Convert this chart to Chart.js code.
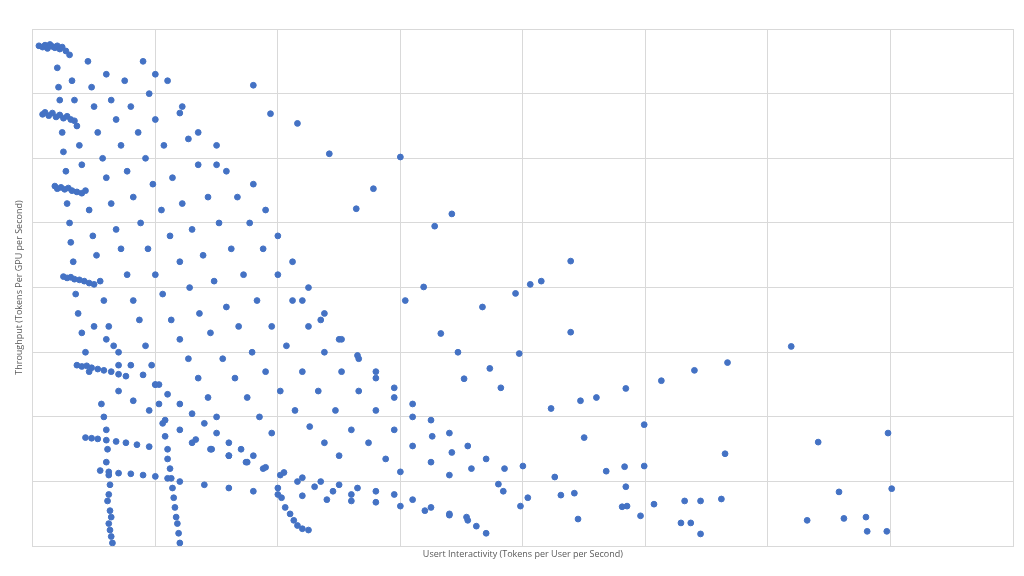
<!DOCTYPE html>
<html><head><meta charset="utf-8">
<script src="https://cdn.jsdelivr.net/npm/chart.js@4"></script>
<style>html,body{margin:0;background:#fff}#w{width:1024px;height:576px}</style>
</head><body><div id="w"><canvas id="c"></canvas></div>
<script>
// Left horizontal bands
const bandX = [0.05,0.08,0.1,0.12,0.14,0.16,0.18,0.2,0.22,0.24,0.27, 0.08,0.1,0.13,0.16,0.19,0.22,0.25,0.28,0.31,0.34, 0.18,0.2,0.23,0.26,0.29,0.32,0.36,0.4, 0.25,0.28,0.31,0.34,0.38,0.42,0.46,0.5, 0.36,0.4,0.44,0.48,0.53,0.58,0.64,0.7,0.76, 0.43,0.48,0.53,0.6,0.68,0.76,0.85,0.95, 0.55,0.62,0.7,0.8,0.9,1.0,1.1];
const bandY = [7.74,7.72,7.75,7.70,7.76,7.73,7.71,7.74,7.69,7.72,7.66, 6.68,6.71,6.66,6.70,6.64,6.67,6.62,6.65,6.60,6.58, 5.57,5.53,5.55,5.52,5.54,5.50,5.48,5.46, 4.17,4.15,4.16,4.13,4.12,4.10,4.07,4.05, 2.80,2.78,2.79,2.76,2.74,2.72,2.70,2.66,2.63, 1.68,1.67,1.66,1.64,1.62,1.60,1.57,1.54, 1.17,1.15,1.13,1.12,1.10,1.08,1.05];
// Near-vertical columns
const colX = [0.56,0.58,0.6,0.61,0.6,0.62,0.63,0.62,0.61,0.63,0.64,0.62,0.63,0.64,0.65, 1.0,1.03,1.06,1.08,1.1,1.1,1.12,1.13,1.14,1.15,1.16,1.17,1.18,1.19,1.2, 2.0,2.03,2.06,2.1,2.13,2.16,2.2,2.25];
const colY = [2.2,2.0,1.8,1.5,1.3,1.1,0.95,0.8,0.7,0.55,0.45,0.35,0.25,0.15,0.05, 2.5,2.2,1.9,1.7,1.5,1.35,1.2,1.05,0.9,0.75,0.6,0.45,0.35,0.2,0.05, 0.9,0.75,0.6,0.5,0.4,0.32,0.27,0.25];
// Decaying strands
const strandX = [0.2,0.21,0.22,0.24,0.25,0.27,0.28,0.3,0.31,0.33,0.35,0.37,0.4,0.43,0.46,
0.3,0.32,0.34,0.36,0.38,0.4,0.43,0.46,0.49,0.52,0.55,0.58,0.62,0.66,0.7,
0.45,0.48,0.5,0.53,0.57,0.6,0.64,0.68,0.72,0.77,0.82,0.87,0.92,0.97,1.03,
0.6,0.64,0.68,0.72,0.77,0.82,0.88,0.94,1.0,1.06,1.13,1.2,1.27,1.35,1.43,1.5,
0.75,0.8,0.86,0.92,0.98,1.05,1.12,1.2,1.28,1.36,1.45,1.55,1.65,1.75,1.85,1.95,
0.95,1.0,1.07,1.14,1.22,1.3,1.39,1.48,1.58,1.68,1.79,1.9,2.02,2.14,2.26,2.38,2.5,
1.2,1.27,1.35,1.43,1.52,1.62,1.72,1.83,1.95,2.07,2.2,2.33,2.47,2.6,2.74,2.88,3.0,
1.5,1.58,1.67,1.77,1.88,2.0,2.12,2.25,2.38,2.52,2.66,2.8,2.95,3.1,3.25,3.4,
1.8,1.9,2.0,2.12,2.25,2.38,2.52,2.66,2.8,2.95,3.1,3.26,3.42,3.58,
0.5,0.6,0.7,0.8,0.9,1.0,1.1,1.2,1.3,1.4,1.5,1.6,1.7,1.8,
0.7,0.82,0.95,1.08,1.2,1.33,1.46,1.6,1.74,1.88,2.02,2.16,2.3,2.45,2.6,
1.3,1.45,1.6,1.75,1.9,2.05,2.2,2.35,2.5,2.65,2.8,2.95,3.1,3.25,3.4,3.55,
1.2,1.4,1.6,1.8,2.0,2.2,2.4,2.6,2.8,3.0,3.2,3.4,
0.9,1.0,1.1,1.22,1.35,1.5,
2.2,2.35,2.5,2.65,2.8,2.95,3.1,3.25,3.4,3.55,3.7,3.85];
const strandY = [7.4,7.1,6.9,6.4,6.1,5.8,5.3,5.0,4.7,4.4,3.9,3.6,3.3,3.0,2.7,
7.6,7.2,6.9,6.5,6.2,5.9,5.5,5.2,4.8,4.5,4.1,3.8,3.4,3.1,2.8,
7.5,7.1,6.8,6.4,6.0,5.7,5.3,4.9,4.6,4.2,3.8,3.5,3.1,2.8,2.5,
7.3,6.9,6.6,6.2,5.8,5.4,5.0,4.6,4.2,3.9,3.5,3.2,2.9,2.6,2.3,2.0,
7.2,6.8,6.4,6.0,5.6,5.2,4.8,4.4,4.0,3.6,3.3,2.9,2.6,2.3,2.0,1.75,
7.0,6.6,6.2,5.7,5.3,4.9,4.5,4.1,3.7,3.4,3.0,2.7,2.4,2.1,1.85,1.6,1.4,
6.7,6.3,5.9,5.4,5.0,4.6,4.2,3.8,3.4,3.1,2.7,2.4,2.1,1.8,1.6,1.35,1.15,
6.2,5.8,5.4,5.0,4.6,4.2,3.8,3.4,3.0,2.7,2.4,2.1,1.8,1.55,1.3,1.1,
5.6,5.2,4.8,4.4,4.0,3.6,3.2,2.9,2.6,2.3,2.0,1.7,1.45,1.2,
3.4,3.2,3.0,2.8,2.65,2.5,2.35,2.2,2.05,1.9,1.75,1.6,1.5,1.4,
2.4,2.25,2.1,1.95,1.8,1.65,1.5,1.4,1.3,1.2,1.1,1.0,0.92,0.85,0.8,
1.6,1.5,1.4,1.3,1.22,1.14,1.06,1.0,0.95,0.9,0.85,0.8,0.72,0.6,0.5,0.4,
1.0,0.95,0.9,0.85,0.8,0.78,0.72,0.7,0.68,0.62,0.55,0.48,
7.5,7.3,7.2,6.8,6.4,5.9,
3.8,3.5,3.2,2.95,2.7,2.45,2.2,1.95,1.75,1.55,1.35,1.2];
// Sparse outlying points
const sparseX = [6.19,5.67,5.40,5.13,4.84,4.60,4.47,4.23,6.41,6.98,7.01,6.58,6.80,6.97,6.81,6.62,6.32,5.65,5.62,5.45,5.32,5.45,5.37,5.29,5.07,4.99,4.99,4.85,4.81,4.96,4.84,4.83,4.68,4.50,4.42,4.45,4.31,4.26,4.39,4.39,4.15,4.06,3.94,3.67,3.97,3.42,3.28,3.00,2.78,2.64,2.42,2.16,1.94,1.80,3.19,3.04,3.33,3.47,3.52,3.73,3.82,3.80,4.00,4.04,3.98,3.84,3.70,3.62,3.54];
const sparseY = [3.09,2.84,2.72,2.56,2.44,2.30,2.25,2.13,1.61,1.75,0.89,0.84,0.45,0.23,0.23,0.43,0.40,1.43,0.73,0.70,0.70,0.19,0.36,0.36,0.65,1.24,1.88,0.62,0.61,0.47,0.92,1.23,1.16,1.68,0.82,0.42,0.79,1.07,3.31,4.41,4.10,4.05,3.91,3.70,2.98,5.14,4.95,6.02,5.53,5.22,6.07,6.54,6.69,7.13,4.01,3.80,3.29,3.00,2.59,2.75,2.45,0.96,1.24,0.75,0.62,0.85,0.20,0.31,0.45];

const xs = bandX.concat(colX, strandX, sparseX);
const ys = bandY.concat(colY, strandY, sparseY);
const pts = xs.map((x,i)=>({x, y: ys[i]}));

new Chart(document.getElementById('c'), {
  type: 'scatter',
  data: { datasets: [{ data: pts, backgroundColor: '#4472C4', borderColor: '#4472C4', pointRadius: 2.9, pointHoverRadius: 2.9 }] },
  options: {
    responsive: true, maintainAspectRatio: false, animation: false,
    layout: { padding: { left: 14, right: 11, top: 29, bottom: 16 } },
    plugins: { legend: { display: false }, tooltip: { enabled: false } },
    scales: {
      x: { min: 0, max: 8, ticks: { display: false, stepSize: 1 }, grid: { color: '#d9d9d9', drawTicks: false }, border: { color: '#d9d9d9' },
           title: { display: true, text: 'Usert Interactivity (Tokens per User per Second)', color: '#595959', font: { family: 'Open Sans', size: 9 }, padding: { top: 3, bottom: 0 } } },
      y: { min: 0, max: 8, ticks: { display: false, stepSize: 1 }, grid: { color: '#d9d9d9', drawTicks: false }, border: { color: '#d9d9d9' },
           title: { display: true, text: 'Throughput (Tokens Per GPU per Second)', color: '#595959', font: { family: 'Open Sans', size: 9 }, padding: { top: 0, bottom: 8 } } }
    }
  }
});
</script></body></html>
